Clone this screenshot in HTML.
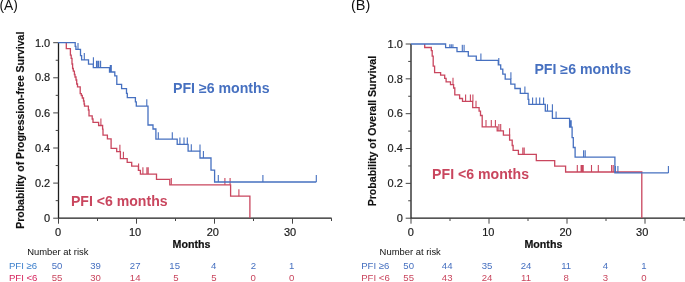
<!DOCTYPE html>
<html><head><meta charset="utf-8"><style>
html,body{margin:0;padding:0;background:#fff;}
svg{display:block;}
text{font-family:"Liberation Sans",Arial,sans-serif;}
.tk{font-size:11px;fill:#1a1a1a;stroke:#1a1a1a;stroke-width:0.18px;}
.lab{font-size:14.2px;font-weight:bold;}
.yl{font-size:10.1px;font-weight:bold;fill:#111;stroke:#111;stroke-width:0.15px;}
.mo{font-size:10.4px;font-weight:bold;fill:#111;stroke:#111;stroke-width:0.2px;}
.nr{font-size:9.5px;fill:#111;}
.tb{font-size:9.6px;}
.pn{font-size:13.8px;fill:#111;}
</style></head><body>
<svg width="685" height="282" viewBox="0 0 685 282">
<rect width="685" height="282" fill="#fff"/>
<text x="-0.6" y="9.7" class="pn">(A)</text>
<text x="351" y="9.9" class="pn" textLength="19.4" lengthAdjust="spacingAndGlyphs">(B)</text>
<text transform="translate(23.7,130.2) rotate(-90)" text-anchor="middle" class="yl" textLength="197" lengthAdjust="spacingAndGlyphs">Probability of Progression-free Survival</text>
<text transform="translate(375.8,131.1) rotate(-90)" text-anchor="middle" class="yl" textLength="150.5" lengthAdjust="spacingAndGlyphs">Probability of Overall Survival</text>
<path d="M58.5,42.7 V218.2 H331.6" fill="none" stroke="#1e1e1e" stroke-width="1.3"/>
<path d="M53.2,218.20 H58.5 M55.7,200.65 H58.5 M53.2,183.10 H58.5 M55.7,165.55 H58.5 M53.2,148.00 H58.5 M55.7,130.45 H58.5 M53.2,112.90 H58.5 M55.7,95.35 H58.5 M53.2,77.80 H58.5 M55.7,60.25 H58.5 M53.2,42.70 H58.5 M58.5,218.2 V223.7 M97.5,218.2 V221.0 M136.5,218.2 V223.7 M175.5,218.2 V221.0 M214.5,218.2 V223.7 M253.5,218.2 V221.0 M292.5,218.2 V223.7 M331.5,218.2 V221.0" fill="none" stroke="#444" stroke-width="1"/>
<text x="50.2" y="221.6" text-anchor="end" class="tk">0</text>
<text x="50.2" y="186.6" text-anchor="end" class="tk">0.2</text>
<text x="50.2" y="151.6" text-anchor="end" class="tk">0.4</text>
<text x="50.2" y="116.8" text-anchor="end" class="tk">0.6</text>
<text x="50.2" y="81.4" text-anchor="end" class="tk">0.8</text>
<text x="50.2" y="46.7" text-anchor="end" class="tk">1.0</text>
<text x="58.1" y="236.2" text-anchor="middle" class="tk">0</text>
<text x="135.1" y="236.2" text-anchor="middle" class="tk">10</text>
<text x="212.8" y="236.2" text-anchor="middle" class="tk">20</text>
<text x="290.1" y="236.2" text-anchor="middle" class="tk">30</text>
<path d="M411,44 V218.2 H685" fill="none" stroke="#1e1e1e" stroke-width="1.3"/>
<path d="M405.7,218.20 H411 M408.2,200.78 H411 M405.7,183.36 H411 M408.2,165.94 H411 M405.7,148.52 H411 M408.2,131.10 H411 M405.7,113.68 H411 M408.2,96.26 H411 M405.7,78.84 H411 M408.2,61.42 H411 M405.7,44.00 H411 M411,218.2 V223.7 M450,218.2 V221.0 M489,218.2 V223.7 M528,218.2 V221.0 M567,218.2 V223.7 M606,218.2 V221.0 M645,218.2 V223.7 M684,218.2 V221.0" fill="none" stroke="#444" stroke-width="1"/>
<text x="402.9" y="221.9" text-anchor="end" class="tk">0</text>
<text x="402.9" y="186.9" text-anchor="end" class="tk">0.2</text>
<text x="402.9" y="152" text-anchor="end" class="tk">0.4</text>
<text x="402.9" y="117.3" text-anchor="end" class="tk">0.6</text>
<text x="402.9" y="82.6" text-anchor="end" class="tk">0.8</text>
<text x="402.9" y="47.8" text-anchor="end" class="tk">1.0</text>
<text x="410.8" y="236.2" text-anchor="middle" class="tk">0</text>
<text x="488.3" y="236.2" text-anchor="middle" class="tk">10</text>
<text x="565.6" y="236.2" text-anchor="middle" class="tk">20</text>
<text x="642.2" y="236.2" text-anchor="middle" class="tk">30</text>
<defs><clipPath id="cl"><rect x="58" y="43.0" width="280" height="177"/></clipPath><clipPath id="cr"><rect x="411" y="44.3" width="280" height="177"/></clipPath></defs>
<path d="M66.3,42.7 V48.6 H70.4 V55.2 H71.2 V58.4 H72 V64 H72.6 V68.5 H73.3 V71.1 H74.4 V74.5 H75 V77 H76 V80 H76.7 V84 H77.5 V86.8 H80.2 V93.6 H81.3 V95.5 H82.3 V98 H83.5 V101 H84.1 V104 H84.5 V106.2 H88.4 V110 H89 V115.9 H92.2 V119 H93 V122.4 H98.6 V125.5 H102.6 V129.2 H103 V135.2 H107.4 V138.9 H111.1 V148.3 H116.7 V151.7 H120.4 V158.6 H127.2 V162.4 H131.7 V166.1 H138.4 V170.4 H140.4 V174.1 H156.5 V179.3 H169.8 V184.8 H230.6 V196.2 H249.9 V218" fill="none" stroke="#c9465e" stroke-width="1.3"/>
<path d="M100.9,125.5 V118.6 M119.9,151.7 V144.8 M123.4,158.6 V151.7 M138.6,170.4 V163.5 M142.9,174.1 V167.2 M146.9,174.1 V167.2 M148.2,174.1 V167.2 M171.3,184.8 V177.9 M224.9,184.8 V177.9 M230.1,184.8 V177.9 M238.9,196.2 V189.3" fill="none" stroke="#c9465e" stroke-width="1.1" clip-path="url(#cl)"/>
<path d="M58,42.7 H75.2 V46.4 H75.9 V49.4 H80.5 V55.6 H81.6 V59.9 H88.5 V64.1 H93.3 V67.6 H109.5 V72 H114.8 V75.9 H116.8 V84.4 H121.6 V88.7 H126.5 V93.3 H127.3 V97.6 H135.4 V101.8 H136.3 V106.1 H148 V125 H153 V129 H155.9 V139.1 H177.2 V144.3 H188.1 V151.2 H200 V158 H211 V170.1 H214.6 V182 H316.3" fill="none" stroke="#4670c0" stroke-width="1.3"/>
<path d="M78,49.4 V42.5 M84.3,59.9 V53.0 M93.4,64.1 V57.2 M96.5,67.6 V60.7 M97.8,67.6 V60.7 M98.8,67.6 V60.7 M100.6,67.6 V60.7 M110.3,72 V65.1 M111.3,72 V65.1 M146.8,106.1 V99.2 M158.3,139.1 V132.2 M172.3,139.1 V132.2 M179.9,144.3 V137.4 M184,144.3 V137.4 M187.3,144.3 V137.4 M191.3,151.2 V144.3 M200,151.3 V144.4 M203.4,158 V151.1 M218.3,182 V175.1 M262.9,182 V175.1 M316.3,182 V175.1" fill="none" stroke="#4670c0" stroke-width="1.1" clip-path="url(#cl)"/>
<path d="M424.7,44 V47.5 H431.3 V50.6 H432.2 V56.1 H433.2 V66.1 H434.6 V72.7 H440.6 V75.2 H444.7 V78.4 H446.1 V81.8 H450.5 V84.6 H453.6 V88 H454.8 V94.8 H459.6 V98.5 H462.5 V101.3 H472.7 V107.7 H479.1 V111.2 H480.5 V115.5 H482.2 V126.8 H497.2 V130.9 H503.4 V135.2 H509.6 V140.1 H512.2 V145.5 H513.1 V150.4 H518.4 V154.4 H536.3 V160.6 H554.7 V166.2 H565.6 V172 H641.8 V218" fill="none" stroke="#c9465e" stroke-width="1.3"/>
<path d="M453,84.6 V77.7 M465.6,101.3 V94.4 M470.4,101.3 V94.4 M472.9,101.3 V94.4 M476,107.7 V100.8 M486,126.8 V119.9 M491.3,126.8 V119.9 M495.4,126.8 V119.9 M498.9,130.9 V124.0 M500.7,130.9 V124.0 M509.6,135.2 V128.3 M522.8,154.4 V147.5 M524.2,154.4 V147.5 M577.3,172 V165.1 M581.1,172 V165.1 M582.2,172 V165.1 M583.2,172 V165.1 M591.5,172 V165.1 M598.3,172 V165.1 M611.6,172 V165.1 M613.2,172 V165.1" fill="none" stroke="#c9465e" stroke-width="1.1" clip-path="url(#cr)"/>
<path d="M411,44 H445.6 V47.6 H457 V51.6 H468.3 V56.1 H476.3 V60.3 H498.3 V64.8 H500.7 V69.2 H502.8 V74.1 H505.2 V79.1 H510.8 V84.1 H514.9 V88.5 H520.3 V93.4 H528.1 V99.4 H528.8 V104.4 H545.3 V111.1 H552.4 V118.3 H569.6 V127.1 H572.1 V137.7 H573.3 V147.5 H575.1 V157.2 H614.9 V172.9 H668.4" fill="none" stroke="#4670c0" stroke-width="1.3"/>
<path d="M449.8,47.6 V40.7 M451.3,47.6 V40.7 M452.9,47.6 V40.7 M462.3,51.6 V44.7 M464.1,51.6 V44.7 M480.9,60.3 V53.4 M498.8,64.8 V57.9 M510.9,79.1 V72.2 M524.9,93.4 V86.5 M532.6,104.4 V97.5 M536.2,104.4 V97.5 M539.7,104.4 V97.5 M543.6,104.4 V97.5 M547.5,111.1 V104.2 M552.4,111.1 V104.2 M556.1,118.3 V111.4 M570.3,127.1 V120.2 M571.2,127.1 V120.2 M583.6,157.2 V150.3 M585.2,157.2 V150.3 M615.4,172.9 V166.0 M617.9,172.9 V166.0 M668.4,172.9 V166.0" fill="none" stroke="#4670c0" stroke-width="1.1" clip-path="url(#cr)"/>
<text x="173.0" y="92.9" class="lab" fill="#4670c0" textLength="96.6" lengthAdjust="spacingAndGlyphs">PFI ≥6 months</text>
<text x="70.9" y="205.6" class="lab" fill="#c9465e" textLength="96.7" lengthAdjust="spacingAndGlyphs">PFI &lt;6 months</text>
<text x="534.4" y="74.4" class="lab" fill="#4670c0" textLength="96.7" lengthAdjust="spacingAndGlyphs">PFI ≥6 months</text>
<text x="432.1" y="179.0" class="lab" fill="#c9465e" textLength="96.9" lengthAdjust="spacingAndGlyphs">PFI &lt;6 months</text>
<text x="191.5" y="247.8" text-anchor="middle" class="mo" textLength="37.9" lengthAdjust="spacingAndGlyphs">Months</text>
<text x="543.4" y="247.8" text-anchor="middle" class="mo" textLength="37.9" lengthAdjust="spacingAndGlyphs">Months</text>
<text x="27.2" y="255" class="nr" textLength="61.2" lengthAdjust="spacingAndGlyphs">Number at risk</text>
<text x="8.9" y="269" class="tb" fill="#3b7fcc">PFI ≥6</text>
<text x="8.9" y="281.2" class="tb" fill="#d6245e">PFI &lt;6</text>
<text x="57" y="269" text-anchor="middle" class="tb" fill="#4670c0">50</text>
<text x="57" y="281.2" text-anchor="middle" class="tb" fill="#c9465e">55</text>
<text x="95.5" y="269" text-anchor="middle" class="tb" fill="#4670c0">39</text>
<text x="95.5" y="281.2" text-anchor="middle" class="tb" fill="#c9465e">30</text>
<text x="135.2" y="269" text-anchor="middle" class="tb" fill="#4670c0">27</text>
<text x="135.2" y="281.2" text-anchor="middle" class="tb" fill="#c9465e">14</text>
<text x="174.7" y="269" text-anchor="middle" class="tb" fill="#4670c0">15</text>
<text x="175.9" y="281.2" text-anchor="middle" class="tb" fill="#c9465e">5</text>
<text x="213.6" y="269" text-anchor="middle" class="tb" fill="#4670c0">4</text>
<text x="213.9" y="281.2" text-anchor="middle" class="tb" fill="#c9465e">5</text>
<text x="253.3" y="269" text-anchor="middle" class="tb" fill="#4670c0">2</text>
<text x="253.1" y="281.2" text-anchor="middle" class="tb" fill="#c9465e">0</text>
<text x="291.7" y="269" text-anchor="middle" class="tb" fill="#4670c0">1</text>
<text x="291.7" y="281.2" text-anchor="middle" class="tb" fill="#c9465e">0</text>
<text x="379.6" y="255" class="nr" textLength="61.2" lengthAdjust="spacingAndGlyphs">Number at risk</text>
<text x="361.2" y="269" class="tb" fill="#4670c0">PFI ≥6</text>
<text x="361.2" y="281.2" class="tb" fill="#c9465e">PFI &lt;6</text>
<text x="408.7" y="269" text-anchor="middle" class="tb" fill="#4670c0">50</text>
<text x="408.7" y="281.2" text-anchor="middle" class="tb" fill="#c9465e">55</text>
<text x="447.2" y="269" text-anchor="middle" class="tb" fill="#4670c0">44</text>
<text x="447.2" y="281.2" text-anchor="middle" class="tb" fill="#c9465e">43</text>
<text x="487.1" y="269" text-anchor="middle" class="tb" fill="#4670c0">35</text>
<text x="487.1" y="281.2" text-anchor="middle" class="tb" fill="#c9465e">24</text>
<text x="526.1" y="269" text-anchor="middle" class="tb" fill="#4670c0">24</text>
<text x="526.1" y="281.2" text-anchor="middle" class="tb" fill="#c9465e">11</text>
<text x="566.2" y="269" text-anchor="middle" class="tb" fill="#4670c0">11</text>
<text x="566.2" y="281.2" text-anchor="middle" class="tb" fill="#c9465e">8</text>
<text x="605.4" y="269" text-anchor="middle" class="tb" fill="#4670c0">4</text>
<text x="605.4" y="281.2" text-anchor="middle" class="tb" fill="#c9465e">3</text>
<text x="643.9" y="269" text-anchor="middle" class="tb" fill="#4670c0">1</text>
<text x="643.9" y="281.2" text-anchor="middle" class="tb" fill="#c9465e">0</text>
</svg>
</body></html>
